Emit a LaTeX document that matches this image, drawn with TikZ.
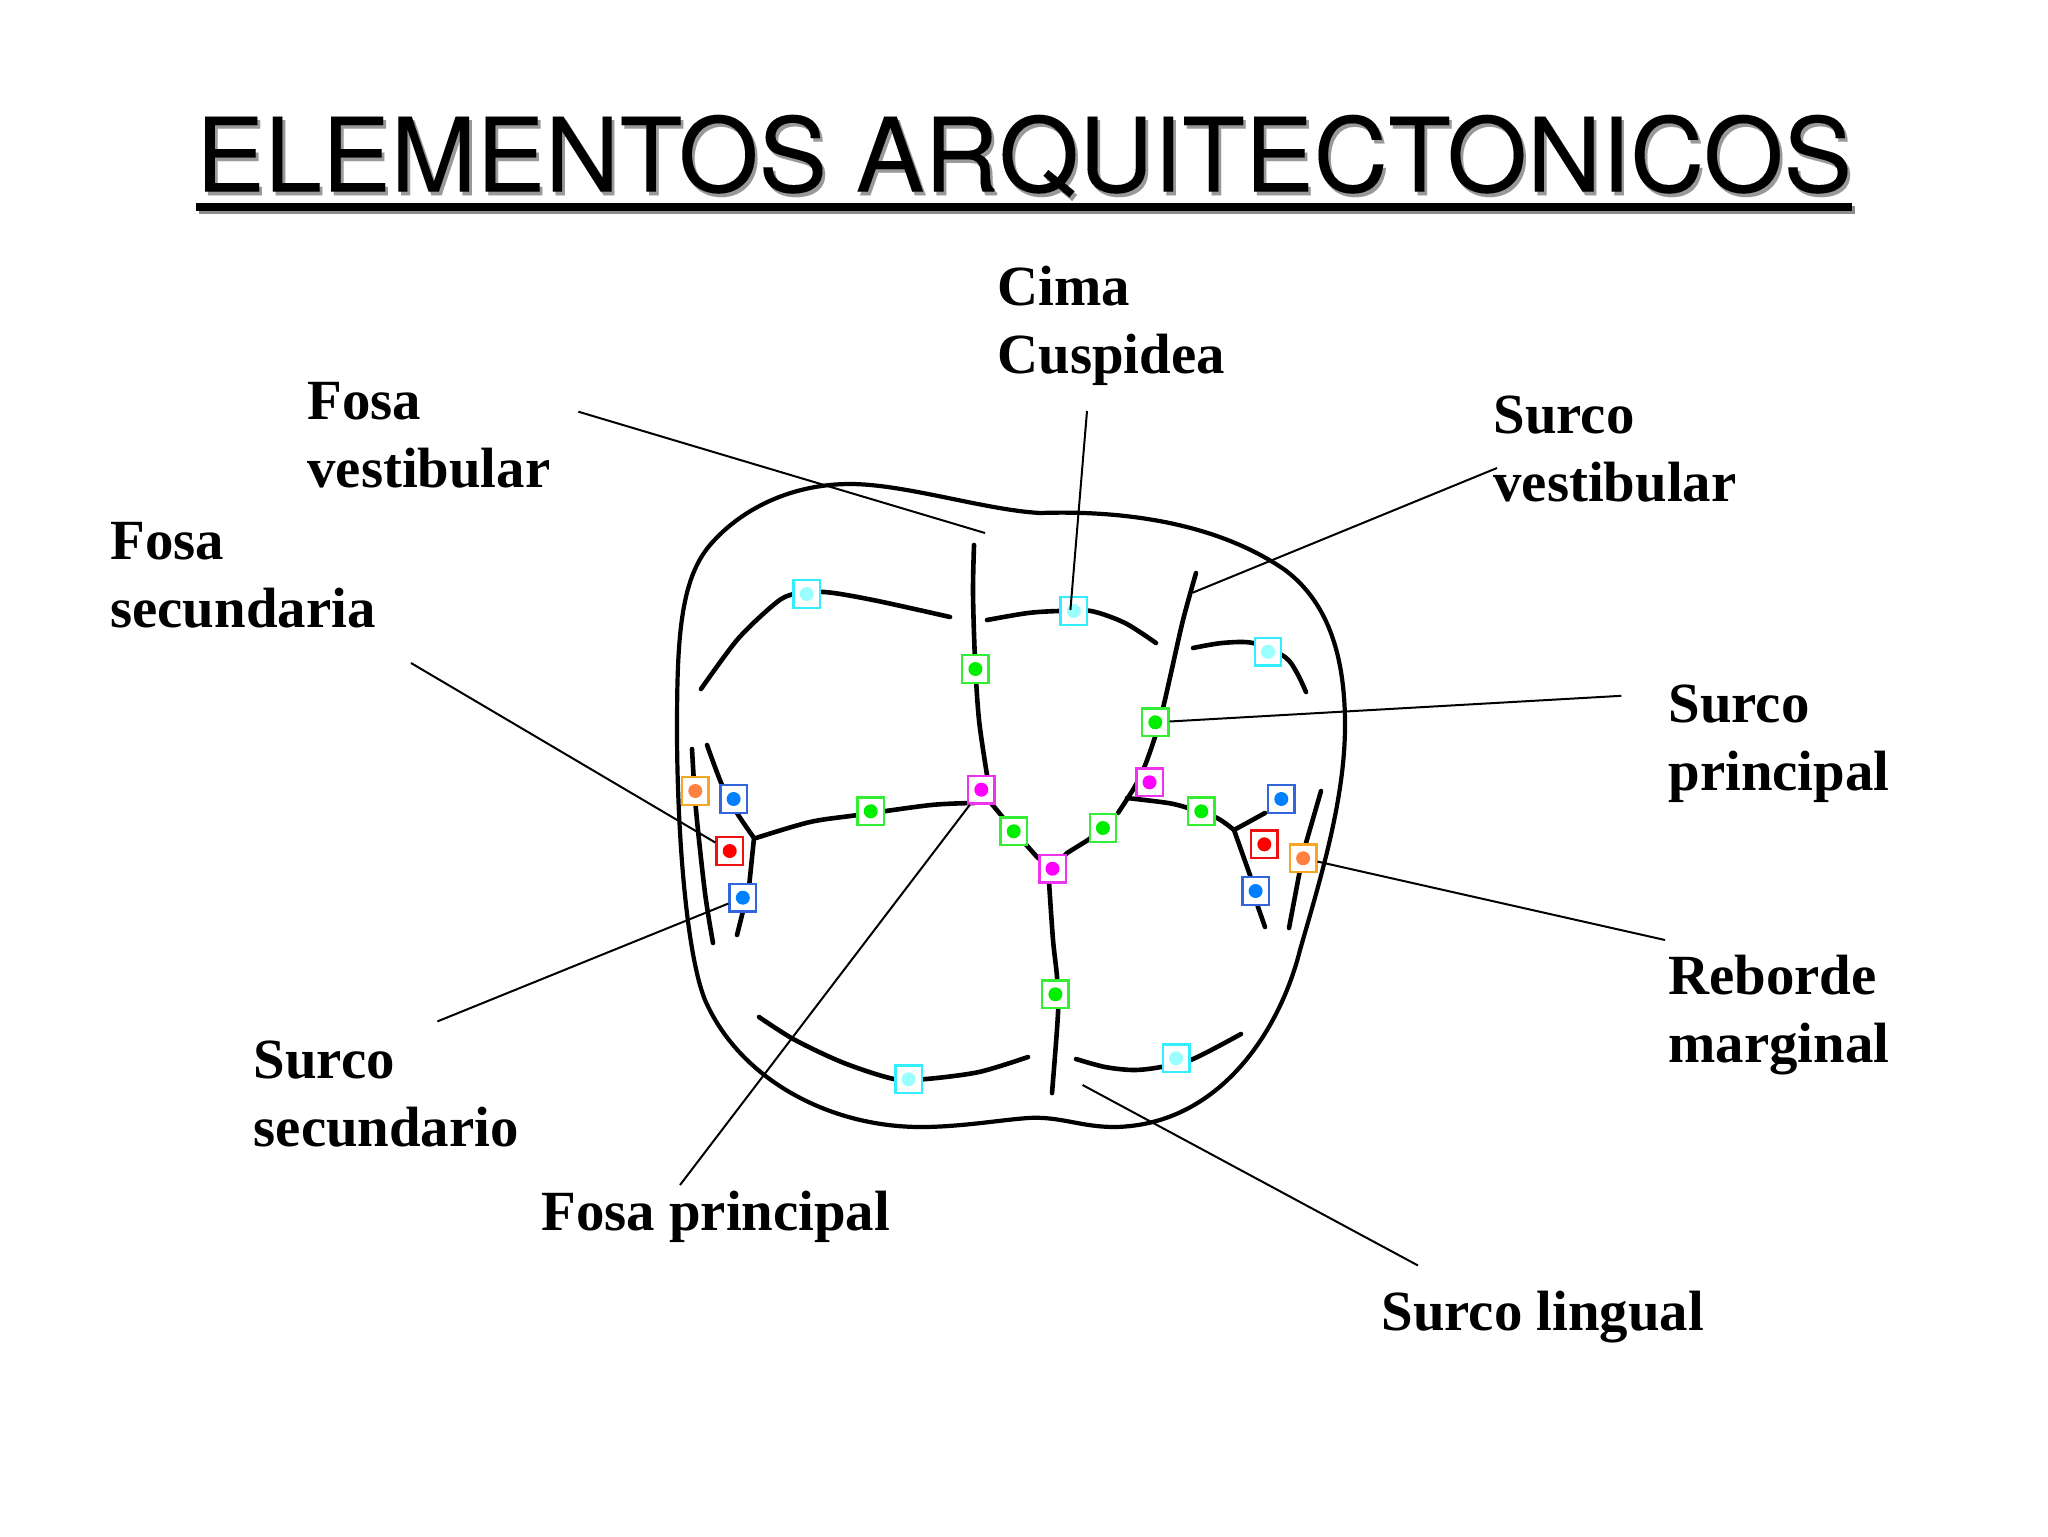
\documentclass[tikz,border=0pt]{standalone}
\usepackage{fontspec}
\setmainfont{Liberation Serif}
\newfontfamily\titlefont[FakeBold=0.08]{TeX Gyre Heros}
\usetikzlibrary{positioning}

\newcommand{\shadowed}[1]{\rlap{\kern1.4pt\raisebox{-1.8pt}{\textcolor{black!40}{#1}}}#1}

\tikzset{
  marker/.style 2 args={draw=#1,fill=white,line width=1.2pt,inner sep=0pt,minimum width=13.2pt,minimum height=13.9pt,
    path picture={\fill[#2] (path picture bounding box.center) circle (3.5pt);}},
  cusp/.style={marker={cuspbox}{cuspdot}},
  groove/.style={marker={groovebox}{groovedot}},
  fossa/.style={marker={fossabox}{fossadot}},
  second/.style={marker={secondbox}{seconddot}},
  ridge/.style={marker={ridgebox}{ridgedot}},
  minor/.style={marker={minorbox}{minordot}},
  outline/.style={line width=2.1pt,line join=round},
  fissure/.style={line width=2.3pt,line cap=round,line join=round},
  leader/.style={line width=1pt},
  tag/.style={anchor=west,align=left,inner sep=0pt,font=\bfseries\fontsize{28.4}{34}\selectfont}
}
\definecolor{cuspbox}{HTML}{33EEFF}
\definecolor{cuspdot}{HTML}{99FFFF}
\definecolor{groovebox}{HTML}{33EE33}
\definecolor{groovedot}{HTML}{00EE00}
\definecolor{fossabox}{HTML}{EE33EE}
\definecolor{fossadot}{HTML}{FF00FF}
\definecolor{secondbox}{HTML}{3366DD}
\definecolor{seconddot}{HTML}{0080FF}
\definecolor{ridgebox}{HTML}{F5A623}
\definecolor{ridgedot}{HTML}{FF8040}
\definecolor{minorbox}{HTML}{EE1111}
\definecolor{minordot}{HTML}{FF0000}

\begin{document}
\begin{tikzpicture}[x=0.5pt,y=-0.5pt]

  \useasboundingbox (0,0) rectangle (2048,1536);

  \node[inner sep=0pt,anchor=base,font=\titlefont\fontsize{51.5}{56}\selectfont] (title) at (1024,191.7) {\shadowed{ELEMENTOS ARQUITECTONICOS}};
  \fill[black!45] (199,206) rectangle (1855,214);
  \fill (196,203) rectangle (1852,210.7);

  \draw[outline] (850,484) .. controls (905,484) and (985,510) .. (1040,513)
                 .. controls (1130,510) and (1220,525) .. (1285,570)
                 .. controls (1325,600) and (1345,650) .. (1345,725)
                 .. controls (1345,800) and (1320,880) .. (1300,950)
                 .. controls (1280,1030) and (1220,1125) .. (1115,1127)
                 .. controls (1080,1127) and (1060,1116) .. (1028,1118)
                 .. controls (1000,1120) and (960,1127) .. (921,1127)
                 .. controls (830,1127) and (740,1080) .. (705,1000)
                 .. controls (685,950) and (677,820) .. (677,730)
                 .. controls (677,640) and (680,580) .. (710,545)
                 .. controls (740,510) and (790,484) .. (850,484) -- cycle;

  \draw[fissure] plot[smooth] coordinates {(701,689) (737,640) (771,607) (790,595) (824,592) (873,600) (950,617)};
  \draw[fissure] plot[smooth] coordinates {(987,620) (1028,613) (1059,611) (1091,611) (1125,623) (1156,643)};
  \draw[fissure] plot[smooth] coordinates {(1193,648) (1222,643) (1253,643) (1285,657) (1297,673) (1306,692)};
  \draw[fissure] plot[smooth] coordinates {(974,545) (973,593) (975,660) (979,720) (987,775)};
  \draw[fissure] plot[smooth] coordinates {(1196,573) (1183,620) (1171,673) (1163,708) (1155,737) (1144,768) (1134,788) (1118,813)};
  \draw[fissure] (981,790) -- (991,803) -- (1014,831) -- (1037,857) -- (1052,869) -- (1067,853) -- (1088,840) -- (1103,828);
  \draw[fissure] plot[smooth] coordinates {(1127,798) (1168,803) (1188,808) (1217,818) (1234,830)};
  \draw[fissure] (1234,830) -- (1265,813);
  \draw[fissure] (1234,830) -- (1251,878) -- (1258,907) -- (1265,927);
  \draw[fissure] (1321,791) -- (1306,843) -- (1299,875) -- (1289,928);
  \draw[fissure] plot[smooth] coordinates {(756,838) (810,822) (858,815) (931,805) (974,803)};
  \draw[fissure] plot[smooth] coordinates {(707,745) (722,785) (737,813) (754,838)};
  \draw[fissure] (754,838) -- (749,887) -- (737,935);
  \draw[fissure] plot[smooth] coordinates {(692,749) (696,810) (705,893) (713,943)};
  \draw[fissure] plot[smooth] coordinates {(1049,882) (1053,940) (1057,977) (1058,1013) (1052,1093)};
  \draw[fissure] plot[smooth] coordinates {(759,1017) (795,1040) (844,1063) (894,1079) (926,1079) (979,1072) (1028,1057)};
  \draw[fissure] plot[smooth] coordinates {(1076,1059) (1105,1067) (1134,1070) (1161,1067) (1193,1059) (1241,1034)};

  % cusps
  \node[cusp] (c) at (806.7,594) {};
  \node[cusp] (c0) at (1073.8,611) {};
  \node[cusp] (c1) at (1268,651.7) {};
  \node[cusp] (c2) at (908.5,1079.3) {};
  \node[cusp] (c3) at (1176.1,1058.3) {};
  % grooves
  \node[groove] (g) at (975.4,669) {};
  \node[groove] (g0) at (1155.3,722.3) {};
  \node[groove] (g1) at (870.7,811.3) {};
  \node[groove] (g2) at (1013.7,831.3) {};
  \node[groove] (g3) at (1102.9,828) {};
  \node[groove] (g4) at (1201.3,811.3) {};
  \node[groove] (g5) at (1055.4,994.3) {};
  % fossae
  \node[fossa] (f) at (981.3,789.7) {};
  \node[fossa] (f0) at (1149.5,782.3) {};
  \node[fossa] (f1) at (1052.5,868.7) {};
  % secondary
  \node[second] (s) at (733.6,799) {};
  \node[second] (s0) at (742.8,897.7) {};
  \node[second] (s1) at (1281.3,799) {};
  \node[second] (s2) at (1255.6,891) {};
  % ridges, pits
  \node[ridge] (r) at (695.3,791) {};
  \node[ridge] (r0) at (1303.1,858.3) {};
  \node[minor] (m) at (729.7,851) {};
  \node[minor] (m0) at (1264.3,844.3) {};

  \node[tag] (cima) at (997,325.6) {Cima\\Cuspidea};
  \node[tag] (fvest) at (307,435) {Fosa\\vestibular};
  \node[tag] (fsec) at (110,575.4) {Fosa\\secundaria};
  \node[tag] (svest) at (1493,449.4) {Surco\\vestibular};
  \node[tag] (sprin) at (1668,743.3) {Surco\\principal};
  \node[tag] (rebor) at (1668,1015) {Reborde\\marginal};
  \node[tag] (ssec) at (253.3,1094) {Surco\\secundario};
  \node[tag] (fprin) at (541,1217) {Fosa principal};
  \node[tag] (sling) at (1381,1317) {Surco lingual};

  \coordinate (fvest0) at (578.4,411.7);
  \coordinate (fvest1) at (985,533);
  \coordinate (cima0) at (1087,411);
  \coordinate (cima1) at (1070.4,610);
  \coordinate (svest0) at (1497,468);
  \coordinate (svest1) at (1192.6,592.7);
  \coordinate (sprin0) at (1621.4,695.8);
  \coordinate (rebor0) at (1665,940);
  \coordinate (fsec0) at (411,663);
  \coordinate (ssec0) at (437.4,1021.4);
  \coordinate (fprin0) at (680,1185);
  \coordinate (sling0) at (1418,1265.5);
  \coordinate (sling1) at (1082.6,1085);

  \draw[leader] (fvest0) -- (fvest1);
  \draw[leader] (cima0) -- (cima1);
  \draw[leader] (svest0) -- (svest1);
  \draw[leader] (sprin0) -- (g0);
  \draw[leader] (rebor0) -- (r0);
  \draw[leader] (fsec0) -- (m);
  \draw[leader] (ssec0) -- (s0);
  \draw[leader] (fprin0) -- (f);
  \draw[leader] (sling0) -- (sling1);

\end{tikzpicture}
\end{document}
